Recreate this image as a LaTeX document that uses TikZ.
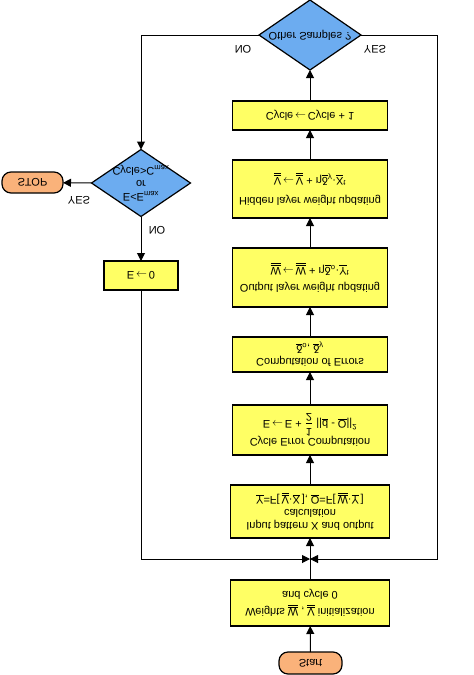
\documentclass[tikz,border=0pt]{standalone}
\usepackage{fontspec}
\setmainfont{Liberation Sans}
\usetikzlibrary{
    arrows.meta,
    positioning,
    shapes.geometric
}
\definecolor{boxyellow}{RGB}{255,255,100}
\definecolor{decblue}{RGB}{108,172,240}
\definecolor{termorange}{RGB}{250,178,122}
\tikzset{
    every picture/.style = {
        > = {Triangle[length = 8pt, width = 8pt]},
        line width = 1pt
    },
    every node/.style = {
        inner sep = 1pt,
        outer sep = 0pt,
        align = center
    },
    every label/.style = {
        align = center
    },
    box/.style = {
        draw,
        line width = 1.2pt,
        fill = boxyellow,
        minimum width = 155pt
    },
    decision/.style = {
        draw,
        line width = 1.2pt,
        fill = decblue,
        diamond,
        inner sep = 0pt
    },
    terminal/.style = {
        draw,
        line width = 1.2pt,
        fill = termorange,
        rounded corners = 9pt
    }
}
\newcommand{\vecu}[1]{\underline{#1}}
\newcommand{\matu}[1]{\underline{\underline{#1}}}
\newcommand{\getsarrow}{\,$\leftarrow$\,}

\begin{document}
\begin{tikzpicture}[x = 1pt, y = 1pt, yscale = -1, transform shape,
                    font = \fontsize{11}{13}\selectfont]
    \useasboundingbox (0, 0) rectangle (474, 675);

    % main column
    \node[terminal, minimum width = 63pt, minimum height = 22pt] (start) at (310.5, 663) {Start};
    \node[box, minimum width = 159pt, minimum height = 46pt] (init) at (310, 603)
        {Weights \matu{W} , \matu{V} initialization\\[4pt] and cycle 0};
    \coordinate (join) at (310, 559);
    \node[box, minimum width = 159pt, minimum height = 53pt] (calc) at (310, 511.5)
        {Input pattern X and output\\ calculation\\
         \vecu{Y}=F[\,\matu{V}·\vecu{X}\,], \vecu{O}=F[\,\matu{W}·\vecu{Y}\,]};
    \node[box, minimum height = 50pt] (cycerr) at (310, 430)
        {Cycle Error Computation\\
         E\getsarrow E + $\displaystyle\frac{\mbox{1}}{\mbox{2}}$ ||\vecu{d} - \vecu{O}||\textsuperscript{2}};
    \node[box, minimum height = 35pt] (errs) at (310, 354.5)
        {Computation of Errors\\ \vecu{δ}\textsubscript{o}, \vecu{δ}\textsubscript{y}};
    \node[box, minimum height = 59pt] (outupd) at (310, 277.5)
        {Output layer weight updating\\[4pt]
         \matu{W}\getsarrow\matu{W} + η\vecu{δ}\textsubscript{o}·\vecu{Y}\textsuperscript{t}};
    \node[box, minimum height = 58pt] (hidupd) at (310, 189)
        {Hidden layer weight updating\\[7pt]
         \matu{V}\getsarrow\matu{V} + η\vecu{δ}\textsubscript{y}·\vecu{X}\textsuperscript{t}};
    \node[box, minimum height = 29pt] (incr) at (310, 115.5) {Cycle\getsarrow Cycle + 1};
    \node[decision, minimum width = 102pt, minimum height = 70pt,
          label = {center:Other Samples ?}] (samples) at (310, 35) {};
    \coordinate (rturn) at (437, 559);

    % left column
    \node[decision, minimum width = 99pt, minimum height = 67pt,
          label = {center:E<E\textsubscript{max}\\ or\\ Cycle>C\textsubscript{max}}] (check) at (141, 183) {};
    \node[terminal, minimum width = 61pt, minimum height = 21pt] (stop) at (32.5, 182.5) {STOP};
    \node[box, minimum width = 74pt, minimum height = 29pt] (reset) at (141, 275.5) {E\getsarrow 0};

    % answers
    \node (no1) at (243, 49) {NO};
    \node (yes1) at (375, 49) {YES};
    \node (yes2) at (79, 200) {YES};
    \node (no2) at (157, 230) {NO};

    \draw[->] (start) -- (init);
    \draw (init) -- (join);
    \draw[->] (join) -- (calc);
    \draw[->] (calc) -- (cycerr);
    \draw[->] (cycerr) -- (errs);
    \draw[->] (errs) -- (outupd);
    \draw[->] (outupd) -- (hidupd);
    \draw[->] (hidupd) -- (incr);
    \draw[->] (incr) -- (samples);
    \draw[->] (samples.east) -| (rturn) -- (join);
    \draw[->] (samples.west) -| (check);
    \draw[->] (check.west) -- (stop);
    \draw[->] (check) -- (reset);
    \draw[->] (reset) |- (join);
\end{tikzpicture}
\end{document}
